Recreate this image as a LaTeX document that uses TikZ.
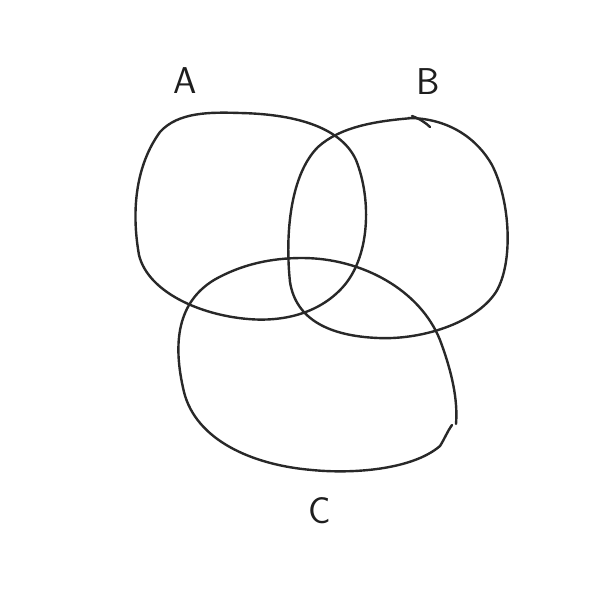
\documentclass[tikz,border=0pt]{standalone}
\usepackage{tikz}

\tikzset{every picture/.style={line width=0.75pt}}
\tikzset{blob/.style={draw={rgb, 255:red, 40; green, 40; blue, 40}, line width=1.8pt, line cap=round, line join=round}}
\tikzset{setlabel/.style={anchor=center, inner sep=0.75pt, font=\fontsize{28}{30}\selectfont\sffamily, text={rgb, 255:red, 30; green, 30; blue, 30}}}

\begin{document}
\begin{tikzpicture}[x=0.75pt,y=0.75pt,yscale=-1,xscale=1]
%set diagram left start at 0, and has height of 602
\useasboundingbox (0,0) rectangle (606,602);
\fill[white] (0,0) rectangle (606,602);

%Shape: Free Drawing [id:setA] 
\draw [blob] (240,113) .. controls (290,114) and (340,125) .. (356,160) .. controls (372,200) and (370,258) .. (342,288) .. controls (318,314) and (282,322) .. (248,319) .. controls (200,315) and (148,292) .. (139,255) .. controls (131,210) and (136,165) .. (160,132) .. controls (178,112) and (210,112) .. (240,113) -- cycle ;
%Shape: Free Drawing [id:setB] 
\draw [blob] (408,118) .. controls (450,118) and (478,140) .. (492,165) .. controls (510,200) and (514,262) .. (496,292) .. controls (475,324) and (420,340) .. (378,338) .. controls (330,336) and (296,320) .. (290,282) .. controls (285,235) and (290,175) .. (318,147) .. controls (340,127) and (375,121) .. (413,118) ;
\draw [blob] (412,116) .. controls (420,119) and (426,123) .. (430,127) ;
%Shape: Free Drawing [id:setC] 
\draw [blob] (452,425) .. controls (447,432) and (445,438) .. (440,446) .. controls (412,470) and (352,474) .. (312,470) .. controls (252,465) and (196,440) .. (184,392) .. controls (172,342) and (178,302) .. (214,280) .. controls (242,264) and (272,258) .. (302,258) .. controls (362,258) and (420,290) .. (440,340) .. controls (452,372) and (458,400) .. (456,424) ;

% Text Node
\node [setlabel] (labA) at (185,81) {A};
% Text Node
\node [setlabel] (labB) at (428,82) {B};
% Text Node
\node [setlabel] (labC) at (320,511) {C};

\end{tikzpicture}
\end{document}
